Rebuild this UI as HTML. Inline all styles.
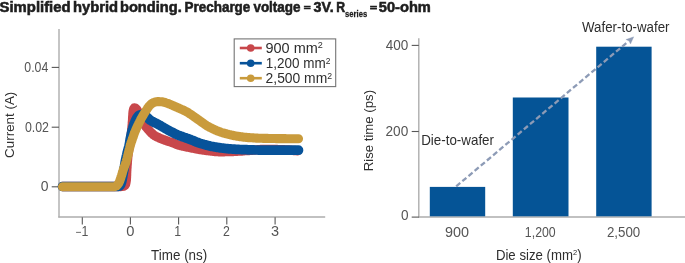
<!DOCTYPE html>
<html><head><meta charset="utf-8"><style>
html,body{margin:0;padding:0;background:#fff;}
body{width:685px;height:263px;overflow:hidden;}
svg{display:block;}
</style></head><body>
<svg width="685" height="263" viewBox="0 0 685 263">
<text transform="translate(-0.46,12.2) scale(1.062,1)" font-family="Liberation Sans, sans-serif" font-weight="bold" font-size="14" fill="#1e1e1e" stroke="#1e1e1e" stroke-width="0.55">Simplified</text>
<text transform="translate(72.94,12.2) scale(1.056,1)" font-family="Liberation Sans, sans-serif" font-weight="bold" font-size="14" fill="#1e1e1e" stroke="#1e1e1e" stroke-width="0.55">hybrid</text>
<text transform="translate(119.95,12.2) scale(1.046,1)" font-family="Liberation Sans, sans-serif" font-weight="bold" font-size="14" fill="#1e1e1e" stroke="#1e1e1e" stroke-width="0.55">bonding.</text>
<text transform="translate(184.44,12.2) scale(0.963,1)" font-family="Liberation Sans, sans-serif" font-weight="bold" font-size="14" fill="#1e1e1e" stroke="#1e1e1e" stroke-width="0.55">Precharge</text>
<text transform="translate(253.40,12.2) scale(0.963,1)" font-family="Liberation Sans, sans-serif" font-weight="bold" font-size="14" fill="#1e1e1e" stroke="#1e1e1e" stroke-width="0.55">voltage</text>
<text transform="translate(313.60,12.2) scale(1.021,1)" font-family="Liberation Sans, sans-serif" font-weight="bold" font-size="14" fill="#1e1e1e" stroke="#1e1e1e" stroke-width="0.55">3V.</text>
<text transform="translate(336.22,12.2) scale(0.878,1)" font-family="Liberation Sans, sans-serif" font-weight="bold" font-size="14" fill="#1e1e1e" stroke="#1e1e1e" stroke-width="0.55">R</text>
<text transform="translate(378.85,12.2) scale(1.046,1)" font-family="Liberation Sans, sans-serif" font-weight="bold" font-size="14" fill="#1e1e1e" stroke="#1e1e1e" stroke-width="0.55">50-ohm</text>
<text transform="translate(303.70,10.5) scale(0.850,0.65)" font-family="Liberation Sans, sans-serif" font-weight="bold" font-size="14" fill="#1e1e1e" stroke="#1e1e1e" stroke-width="0.9">=</text>
<text transform="translate(369.90,10.5) scale(0.863,0.65)" font-family="Liberation Sans, sans-serif" font-weight="bold" font-size="14" fill="#1e1e1e" stroke="#1e1e1e" stroke-width="0.9">=</text>
<text transform="translate(345.00,16.9) scale(0.807,1)" font-family="Liberation Sans, sans-serif" font-weight="bold" font-size="9.5" fill="#1e1e1e" stroke="#1e1e1e" stroke-width="0.25">series</text>
<line x1="59" y1="29" x2="59" y2="217.4" stroke="#adadad" stroke-width="1.4"/>
<line x1="58.3" y1="217" x2="325.2" y2="217" stroke="#adadad" stroke-width="1.4"/>
<line x1="51.7" y1="67.4" x2="59" y2="67.4" stroke="#575757" stroke-width="1.1"/>
<line x1="51.7" y1="127.2" x2="59" y2="127.2" stroke="#575757" stroke-width="1.1"/>
<line x1="51.7" y1="186.8" x2="59" y2="186.8" stroke="#575757" stroke-width="1.1"/>
<line x1="82.3" y1="217.3" x2="82.3" y2="224.5" stroke="#575757" stroke-width="1.1"/>
<line x1="130.4" y1="217.3" x2="130.4" y2="224.5" stroke="#575757" stroke-width="1.1"/>
<line x1="178.6" y1="217.3" x2="178.6" y2="224.5" stroke="#575757" stroke-width="1.1"/>
<line x1="226.8" y1="217.3" x2="226.8" y2="224.5" stroke="#575757" stroke-width="1.1"/>
<line x1="275.1" y1="217.3" x2="275.1" y2="224.5" stroke="#575757" stroke-width="1.1"/>
<line x1="418.8" y1="38.2" x2="418.8" y2="217.4" stroke="#adadad" stroke-width="1.4"/>
<line x1="418.1" y1="217" x2="685" y2="217" stroke="#adadad" stroke-width="1.4"/>
<line x1="411.7" y1="45.4" x2="418.8" y2="45.4" stroke="#575757" stroke-width="1.1"/>
<line x1="411.7" y1="131.5" x2="418.8" y2="131.5" stroke="#575757" stroke-width="1.1"/>
<line x1="411.7" y1="217.1" x2="418.8" y2="217.1" stroke="#575757" stroke-width="1.1"/>
<rect x="429.8" y="186.9" width="55.4" height="29.4" fill="#055496"/>
<rect x="512.8" y="97.5" width="55.7" height="118.8" fill="#055496"/>
<rect x="596.2" y="46.7" width="55.4" height="169.6" fill="#055496"/>
<path d="M62.5,186.5 L63.5,186.5 L64.5,186.5 L65.5,186.5 L66.5,186.5 L67.5,186.5 L68.5,186.5 L69.5,186.5 L70.5,186.5 L71.5,186.5 L72.5,186.5 L73.5,186.5 L74.5,186.5 L75.5,186.5 L76.5,186.5 L77.5,186.5 L78.5,186.5 L79.5,186.5 L80.5,186.5 L81.5,186.5 L82.5,186.5 L83.5,186.5 L84.5,186.5 L85.5,186.5 L86.5,186.5 L87.5,186.5 L88.5,186.5 L89.5,186.5 L90.5,186.5 L91.5,186.5 L92.5,186.5 L93.5,186.5 L94.5,186.5 L95.5,186.5 L96.5,186.5 L97.5,186.5 L98.5,186.5 L99.5,186.5 L100.5,186.5 L101.5,186.5 L102.5,186.5 L103.5,186.5 L104.5,186.5 L105.5,186.5 L106.5,186.5 L107.5,186.5 L108.5,186.5 L109.5,186.5 L110.5,186.5 L111.5,186.5 L112.5,186.5 L113.5,186.5 L114.5,186.5 L115.5,186.5 L116.5,186.5 L117.5,186.5 L118.5,186.5 L119.5,186.5 L120.5,186.5 L121.5,186.4 L122.5,186.3 L123.5,186.2 L124.4,185.8 L125.1,185.1 L125.6,184.2 L125.8,183.2 L126.0,182.3 L126.1,181.3 L126.3,180.3 L126.4,179.3 L126.4,178.3 L126.5,177.3 L126.5,176.3 L126.6,175.3 L126.6,174.3 L126.6,173.3 L126.7,172.3 L126.7,171.3 L126.8,170.3 L126.8,169.3 L126.9,168.3 L127.0,167.3 L127.0,166.3 L127.1,165.3 L127.2,164.3 L127.3,163.3 L127.3,162.3 L127.4,161.3 L127.5,160.3 L127.6,159.3 L127.7,158.3 L127.7,157.3 L127.9,156.3 L128.0,155.3 L128.1,154.3 L128.2,153.4 L128.4,152.4 L128.5,151.4 L128.7,150.4 L128.9,149.4 L129.1,148.4 L129.3,147.4 L129.5,146.5 L129.7,145.5 L129.9,144.5 L130.0,143.5 L130.2,142.5 L130.4,141.6 L130.5,140.6 L130.7,139.6 L130.8,138.6 L130.9,137.6 L131.0,136.6 L131.1,135.6 L131.2,134.6 L131.3,133.6 L131.4,132.6 L131.5,131.6 L131.6,130.6 L131.7,129.6 L131.8,128.6 L131.9,127.6 L132.0,126.6 L132.1,125.6 L132.2,124.6 L132.3,123.7 L132.3,122.7 L132.4,121.7 L132.5,120.7 L132.6,119.7 L132.6,118.7 L132.7,117.7 L132.7,116.7 L132.8,115.7 L132.9,114.7 L132.9,113.7 L133.0,112.7 L133.1,111.7 L133.3,110.7 L133.5,109.7 L133.8,108.8 L134.3,107.9 L135.2,108.0 L136.0,108.7 L136.7,109.4 L137.2,110.2 L137.7,111.1 L138.1,112.0 L138.6,112.9 L139.0,113.8 L139.3,114.8 L139.7,115.7 L140.0,116.6 L140.4,117.6 L140.8,118.5 L141.2,119.4 L141.7,120.3 L142.2,121.2 L142.7,122.0 L143.2,122.8 L143.8,123.7 L144.3,124.5 L144.9,125.3 L145.5,126.1 L146.1,126.9 L146.8,127.7 L147.4,128.5 L148.0,129.2 L148.7,130.0 L149.4,130.7 L150.0,131.5 L150.7,132.2 L151.4,132.9 L152.1,133.6 L152.9,134.3 L153.6,134.9 L154.5,135.5 L155.3,136.0 L156.2,136.5 L157.1,136.9 L158.0,137.3 L158.9,137.8 L159.8,138.2 L160.7,138.6 L161.7,138.9 L162.6,139.3 L163.5,139.6 L164.5,140.0 L165.4,140.3 L166.4,140.7 L167.3,141.0 L168.3,141.3 L169.2,141.6 L170.2,141.9 L171.1,142.2 L172.1,142.5 L173.0,142.8 L173.9,143.2 L174.8,143.6 L175.8,144.0 L176.7,144.4 L177.6,144.8 L178.6,145.1 L179.5,145.3 L180.5,145.6 L181.5,145.8 L182.5,146.1 L183.4,146.3 L184.4,146.5 L185.4,146.7 L186.4,146.9 L187.3,147.1 L188.3,147.3 L189.3,147.5 L190.3,147.7 L191.3,147.9 L192.2,148.1 L193.2,148.3 L194.2,148.5 L195.2,148.7 L196.2,148.9 L197.2,149.0 L198.1,149.2 L199.1,149.4 L200.1,149.6 L201.1,149.7 L202.1,149.9 L203.1,150.0 L204.1,150.2 L205.1,150.3 L206.0,150.4 L207.0,150.6 L208.0,150.7 L209.0,150.8 L210.0,150.9 L211.0,151.0 L212.0,151.1 L213.0,151.3 L214.0,151.4 L215.0,151.5 L216.0,151.6 L217.0,151.7 L218.0,151.7 L219.0,151.8 L220.0,151.8 L221.0,151.8 L222.0,151.8 L223.0,151.8 L224.0,151.8 L225.0,151.7 L226.0,151.7 L227.0,151.7 L228.0,151.6 L229.0,151.6 L230.0,151.6 L231.0,151.5 L232.0,151.5 L233.0,151.5 L234.0,151.4 L235.0,151.4 L236.0,151.3 L237.0,151.3 L238.0,151.2 L239.0,151.1 L240.0,151.1 L241.0,151.0 L241.9,151.0 L242.9,150.9 L243.9,150.8 L244.9,150.7 L245.9,150.7 L246.9,150.6 L247.9,150.5 L248.9,150.5 L249.9,150.4 L250.9,150.3 L251.9,150.3 L252.9,150.2 L253.9,150.1 L254.9,150.0 L255.9,149.9 L256.9,149.8 L257.9,149.7 L258.9,149.7 L259.9,149.6 L260.9,149.5 L261.9,149.5 L262.9,149.4 L263.9,149.4 L264.9,149.4 L265.9,149.4 L266.9,149.4 L267.9,149.4 L268.9,149.4 L269.9,149.4 L270.9,149.4 L271.9,149.5 L272.9,149.5 L273.9,149.5 L274.9,149.5 L275.9,149.5 L276.9,149.5 L277.9,149.6 L278.9,149.6 L279.9,149.6 L280.9,149.6 L281.9,149.7 L282.9,149.7 L283.9,149.7 L284.9,149.8 L285.9,149.8 L286.9,149.9 L287.9,150.0 L288.9,150.0 L289.9,150.1 L290.9,150.2 L291.9,150.3 L292.9,150.4 L293.9,150.5 L294.9,150.5 L295.9,150.6 L296.8,150.7 L297.5,150.8" fill="none" stroke="#c8474b" stroke-width="9.3" stroke-linecap="round" stroke-linejoin="round"/>
<path d="M62.5,186.5 L63.5,186.5 L64.5,186.5 L65.5,186.5 L66.5,186.5 L67.5,186.5 L68.5,186.5 L69.5,186.5 L70.5,186.5 L71.5,186.5 L72.5,186.5 L73.5,186.5 L74.5,186.5 L75.5,186.5 L76.5,186.5 L77.5,186.5 L78.5,186.5 L79.5,186.5 L80.5,186.5 L81.5,186.5 L82.5,186.5 L83.5,186.5 L84.5,186.5 L85.5,186.5 L86.5,186.5 L87.5,186.5 L88.5,186.5 L89.5,186.5 L90.5,186.5 L91.5,186.5 L92.5,186.5 L93.5,186.5 L94.5,186.5 L95.5,186.5 L96.5,186.5 L97.5,186.5 L98.5,186.5 L99.5,186.5 L100.5,186.5 L101.5,186.5 L102.5,186.5 L103.5,186.5 L104.5,186.5 L105.5,186.5 L106.5,186.5 L107.5,186.5 L108.5,186.5 L109.5,186.5 L110.5,186.5 L111.5,186.5 L112.5,186.5 L113.5,186.5 L114.5,186.5 L115.5,186.5 L116.5,186.5 L117.5,186.5 L118.5,186.3 L119.4,186.0 L120.2,185.4 L120.7,184.5 L121.1,183.6 L121.4,182.6 L121.7,181.7 L121.9,180.7 L122.1,179.7 L122.3,178.7 L122.5,177.8 L122.7,176.8 L122.8,175.8 L123.0,174.8 L123.2,173.8 L123.4,172.8 L123.5,171.9 L123.7,170.9 L123.9,169.9 L124.0,168.9 L124.2,167.9 L124.4,166.9 L124.6,165.9 L124.7,165.0 L124.9,164.0 L125.1,163.0 L125.2,162.0 L125.4,161.0 L125.6,160.0 L125.8,159.1 L126.0,158.1 L126.2,157.1 L126.4,156.1 L126.7,155.1 L126.9,154.2 L127.1,153.2 L127.3,152.2 L127.6,151.3 L127.8,150.3 L128.1,149.3 L128.4,148.4 L128.6,147.4 L128.9,146.4 L129.1,145.5 L129.3,144.5 L129.5,143.5 L129.7,142.5 L129.8,141.5 L130.0,140.5 L130.1,139.5 L130.3,138.6 L130.5,137.6 L130.7,136.6 L130.9,135.6 L131.1,134.6 L131.3,133.7 L131.6,132.7 L131.8,131.7 L132.0,130.7 L132.3,129.8 L132.6,128.8 L132.8,127.9 L133.1,126.9 L133.4,125.9 L133.8,125.0 L134.1,124.1 L134.4,123.1 L134.8,122.2 L135.1,121.3 L135.6,120.3 L136.0,119.5 L136.5,118.6 L137.0,117.7 L137.6,116.9 L138.2,116.1 L138.8,115.4 L139.7,114.9 L140.7,114.7 L141.7,114.5 L142.7,114.4 L143.7,114.4 L144.6,114.8 L145.3,115.5 L146.1,116.2 L146.8,116.9 L147.5,117.6 L148.2,118.3 L148.9,119.0 L149.6,119.7 L150.4,120.3 L151.3,120.8 L152.1,121.3 L153.0,121.8 L153.9,122.2 L154.8,122.7 L155.7,123.1 L156.6,123.6 L157.5,124.0 L158.4,124.5 L159.3,125.0 L160.1,125.4 L161.0,126.0 L161.9,126.5 L162.7,127.0 L163.6,127.5 L164.4,128.0 L165.3,128.5 L166.2,129.0 L167.0,129.5 L167.9,130.0 L168.8,130.5 L169.7,130.9 L170.6,131.4 L171.4,131.9 L172.3,132.3 L173.2,132.8 L174.1,133.2 L175.0,133.7 L175.9,134.1 L176.8,134.5 L177.7,134.9 L178.7,135.3 L179.6,135.6 L180.5,136.0 L181.5,136.3 L182.4,136.7 L183.4,137.0 L184.3,137.3 L185.3,137.6 L186.2,138.0 L187.2,138.3 L188.1,138.6 L189.0,139.0 L190.0,139.3 L190.9,139.7 L191.8,140.1 L192.8,140.4 L193.7,140.8 L194.6,141.2 L195.5,141.6 L196.4,142.0 L197.4,142.3 L198.3,142.7 L199.3,143.0 L200.2,143.3 L201.2,143.6 L202.1,143.9 L203.1,144.2 L204.0,144.5 L205.0,144.7 L206.0,145.0 L206.9,145.3 L207.9,145.5 L208.9,145.7 L209.9,146.0 L210.8,146.2 L211.8,146.4 L212.8,146.6 L213.8,146.8 L214.8,147.0 L215.7,147.1 L216.7,147.3 L217.7,147.4 L218.7,147.6 L219.7,147.7 L220.7,147.9 L221.7,148.0 L222.7,148.1 L223.7,148.3 L224.6,148.4 L225.6,148.5 L226.6,148.6 L227.6,148.7 L228.6,148.8 L229.6,148.9 L230.6,148.9 L231.6,149.0 L232.6,149.1 L233.6,149.2 L234.6,149.2 L235.6,149.3 L236.6,149.3 L237.6,149.4 L238.6,149.4 L239.6,149.5 L240.6,149.5 L241.6,149.6 L242.6,149.6 L243.6,149.7 L244.6,149.7 L245.6,149.7 L246.6,149.7 L247.6,149.8 L248.6,149.8 L249.6,149.8 L250.6,149.9 L251.6,149.9 L252.6,149.9 L253.6,149.9 L254.6,150.0 L255.6,150.0 L256.6,150.0 L257.6,150.0 L258.6,150.1 L259.6,150.1 L260.6,150.1 L261.6,150.1 L262.6,150.1 L263.6,150.2 L264.6,150.2 L265.6,150.2 L266.6,150.2 L267.6,150.2 L268.6,150.2 L269.6,150.2 L270.6,150.2 L271.6,150.2 L272.6,150.2 L273.6,150.2 L274.6,150.2 L275.6,150.2 L276.6,150.2 L277.6,150.2 L278.6,150.2 L279.6,150.2 L280.6,150.2 L281.6,150.2 L282.6,150.2 L283.6,150.2 L284.6,150.2 L285.6,150.2 L286.6,150.2 L287.6,150.2 L288.6,150.2 L289.6,150.2 L290.6,150.2 L291.6,150.2 L292.6,150.2 L293.6,150.2 L294.6,150.2 L295.6,150.2 L296.6,150.2 L297.6,150.2 L298.5,150.2" fill="none" stroke="#07539a" stroke-width="9.7" stroke-linecap="round" stroke-linejoin="round"/>
<path d="M62.5,186.7 L63.5,186.7 L64.5,186.7 L65.5,186.7 L66.5,186.7 L67.5,186.7 L68.5,186.7 L69.5,186.7 L70.5,186.7 L71.5,186.7 L72.5,186.7 L73.5,186.7 L74.5,186.7 L75.5,186.7 L76.5,186.7 L77.5,186.7 L78.5,186.7 L79.5,186.7 L80.5,186.7 L81.5,186.7 L82.5,186.7 L83.5,186.7 L84.5,186.7 L85.5,186.7 L86.5,186.7 L87.5,186.7 L88.5,186.7 L89.5,186.7 L90.5,186.7 L91.5,186.7 L92.5,186.7 L93.5,186.7 L94.5,186.7 L95.5,186.7 L96.5,186.7 L97.5,186.7 L98.5,186.7 L99.5,186.7 L100.5,186.7 L101.5,186.7 L102.5,186.7 L103.5,186.7 L104.5,186.7 L105.5,186.7 L106.5,186.7 L107.5,186.7 L108.5,186.7 L109.5,186.7 L110.5,186.7 L111.5,186.7 L112.5,186.7 L113.5,186.7 L114.5,186.6 L115.5,186.3 L116.4,186.0 L117.1,185.3 L117.8,184.6 L118.3,183.7 L118.9,182.9 L119.3,182.0 L119.7,181.1 L120.0,180.1 L120.4,179.2 L120.7,178.2 L121.0,177.3 L121.3,176.3 L121.6,175.4 L121.9,174.4 L122.2,173.5 L122.4,172.5 L122.7,171.5 L123.0,170.6 L123.3,169.6 L123.6,168.7 L124.0,167.8 L124.3,166.8 L124.7,165.9 L125.0,164.9 L125.4,164.0 L125.7,163.0 L126.0,162.1 L126.3,161.1 L126.5,160.2 L126.8,159.2 L127.1,158.2 L127.3,157.3 L127.6,156.3 L127.8,155.3 L128.1,154.4 L128.3,153.4 L128.5,152.4 L128.8,151.5 L129.0,150.5 L129.2,149.5 L129.5,148.5 L129.7,147.6 L130.0,146.6 L130.2,145.6 L130.5,144.7 L130.8,143.7 L131.1,142.8 L131.4,141.8 L131.8,140.9 L132.1,139.9 L132.4,139.0 L132.7,138.0 L133.1,137.1 L133.4,136.1 L133.7,135.2 L134.0,134.3 L134.4,133.3 L134.7,132.4 L135.1,131.5 L135.5,130.5 L135.9,129.6 L136.3,128.7 L136.7,127.8 L137.1,126.9 L137.5,126.0 L137.9,125.1 L138.4,124.2 L138.8,123.3 L139.3,122.4 L139.7,121.5 L140.2,120.6 L140.6,119.7 L141.1,118.8 L141.6,117.9 L142.1,117.1 L142.6,116.2 L143.1,115.3 L143.6,114.5 L144.1,113.6 L144.6,112.8 L145.2,111.9 L145.7,111.1 L146.3,110.2 L146.8,109.4 L147.4,108.6 L147.9,107.7 L148.5,106.9 L149.1,106.1 L149.8,105.4 L150.5,104.7 L151.3,104.0 L152.1,103.4 L152.9,102.9 L153.8,102.5 L154.7,102.2 L155.7,101.9 L156.7,101.7 L157.7,101.6 L158.7,101.6 L159.7,101.7 L160.7,101.7 L161.7,101.8 L162.7,101.9 L163.6,102.1 L164.6,102.4 L165.6,102.7 L166.5,103.0 L167.5,103.3 L168.4,103.6 L169.3,104.0 L170.3,104.4 L171.2,104.8 L172.1,105.2 L173.0,105.6 L173.9,106.0 L174.8,106.4 L175.7,106.8 L176.7,107.2 L177.6,107.6 L178.5,108.0 L179.4,108.4 L180.3,108.8 L181.2,109.2 L182.2,109.6 L183.1,110.0 L184.0,110.5 L184.9,110.9 L185.8,111.3 L186.6,111.8 L187.5,112.3 L188.4,112.8 L189.2,113.4 L190.1,113.9 L190.9,114.5 L191.7,115.0 L192.5,115.6 L193.3,116.2 L194.1,116.8 L195.0,117.4 L195.8,117.9 L196.6,118.5 L197.4,119.1 L198.2,119.6 L199.1,120.2 L199.9,120.8 L200.7,121.4 L201.5,122.0 L202.3,122.6 L203.1,123.2 L203.9,123.7 L204.8,124.3 L205.6,124.8 L206.4,125.4 L207.3,125.9 L208.2,126.4 L209.0,126.9 L209.9,127.4 L210.8,127.8 L211.7,128.3 L212.6,128.7 L213.5,129.2 L214.4,129.6 L215.3,130.0 L216.2,130.4 L217.1,130.8 L218.1,131.1 L219.0,131.5 L219.9,131.8 L220.9,132.2 L221.8,132.5 L222.8,132.8 L223.7,133.1 L224.7,133.3 L225.7,133.6 L226.6,133.9 L227.6,134.1 L228.6,134.4 L229.5,134.6 L230.5,134.8 L231.5,135.1 L232.5,135.3 L233.4,135.5 L234.4,135.7 L235.4,135.9 L236.4,136.1 L237.4,136.2 L238.4,136.4 L239.4,136.5 L240.3,136.7 L241.3,136.8 L242.3,136.9 L243.3,137.1 L244.3,137.2 L245.3,137.3 L246.3,137.4 L247.3,137.5 L248.3,137.6 L249.3,137.6 L250.3,137.7 L251.3,137.8 L252.3,137.8 L253.3,137.9 L254.3,138.0 L255.3,138.0 L256.3,138.1 L257.3,138.1 L258.3,138.2 L259.3,138.2 L260.3,138.3 L261.3,138.3 L262.3,138.3 L263.3,138.4 L264.3,138.4 L265.3,138.4 L266.3,138.4 L267.3,138.4 L268.3,138.5 L269.3,138.5 L270.3,138.5 L271.3,138.5 L272.3,138.5 L273.3,138.5 L274.3,138.5 L275.3,138.5 L276.3,138.6 L277.3,138.6 L278.3,138.6 L279.3,138.6 L280.3,138.6 L281.3,138.6 L282.3,138.6 L283.3,138.6 L284.3,138.6 L285.3,138.6 L286.3,138.7 L287.3,138.7 L288.3,138.7 L289.3,138.7 L290.3,138.7 L291.3,138.7 L292.3,138.7 L293.3,138.7 L294.3,138.7 L295.3,138.7 L296.3,138.7 L297.3,138.7 L298.3,138.7 L298.5,138.7" fill="none" stroke="#c99b3c" stroke-width="9.1" stroke-linecap="round" stroke-linejoin="round"/>
<rect x="234.2" y="38.9" width="101.5" height="47.7" fill="#fff" stroke="#747474" stroke-width="1.1"/>
<line x1="239.8" y1="48.0" x2="261.8" y2="48.0" stroke="#c8474b" stroke-width="2.6"/>
<circle cx="250.7" cy="48.0" r="3.8" fill="#c8474b"/>
<line x1="239.8" y1="63.2" x2="261.8" y2="63.2" stroke="#07539a" stroke-width="2.6"/>
<circle cx="250.7" cy="63.2" r="3.8" fill="#07539a"/>
<line x1="239.8" y1="78.2" x2="261.8" y2="78.2" stroke="#c99b3c" stroke-width="2.6"/>
<circle cx="250.7" cy="78.2" r="3.8" fill="#c99b3c"/>
<line x1="456.2" y1="186.4" x2="626.3" y2="43.1" stroke="#8d9bb6" stroke-width="2.3" stroke-dasharray="5.3,2.74"/>
<path d="M633.8,36.8 L625.9,39.5 L629.0,41.0 L630.5,44.1 Z" fill="#8d9bb6" stroke="#8d9bb6" stroke-width="0.3" stroke-linejoin="round"/>
<text transform="translate(24.29,71.7) scale(0.920,1.07)" font-family="Liberation Sans, sans-serif" font-weight="normal" font-size="13.4" fill="#555555">0.04</text>
<text transform="translate(24.90,131.5) scale(0.924,1.07)" font-family="Liberation Sans, sans-serif" font-weight="normal" font-size="13.4" fill="#555555">0.02</text>
<text transform="translate(40.70,191.4) scale(1.043,1.07)" font-family="Liberation Sans, sans-serif" font-weight="normal" font-size="13.4" fill="#555555">0</text>
<text transform="translate(75.66,236.2) scale(0.920,1.07)" font-family="Liberation Sans, sans-serif" font-weight="normal" font-size="13.4" fill="#555555"><tspan font-size="11" dy="-0.5">−</tspan><tspan dy="0.5">1</tspan></text>
<text transform="translate(126.30,236.2) scale(1.100,1.07)" font-family="Liberation Sans, sans-serif" font-weight="normal" font-size="13.4" fill="#555555">0</text>
<text transform="translate(174.22,236.2) scale(0.920,1.07)" font-family="Liberation Sans, sans-serif" font-weight="normal" font-size="13.4" fill="#555555">1</text>
<text transform="translate(222.92,236.2) scale(0.920,1.07)" font-family="Liberation Sans, sans-serif" font-weight="normal" font-size="13.4" fill="#555555">2</text>
<text transform="translate(270.92,236.4) scale(1.083,1.07)" font-family="Liberation Sans, sans-serif" font-weight="normal" font-size="13.4" fill="#555555">3</text>
<text transform="translate(151.10,259.8) scale(1.017,1.04)" font-family="Liberation Sans, sans-serif" font-weight="normal" font-size="13.2" fill="#2e2e2e">Time (ns)</text>
<text transform="translate(265.52,52.6) scale(1.081,1.04)" font-family="Liberation Sans, sans-serif" font-weight="normal" font-size="13.4" fill="#2e2e2e">900 mm<tspan font-size="8.4" dy="-4.3">2</tspan></text>
<text transform="translate(265.79,68.0) scale(1.006,1.04)" font-family="Liberation Sans, sans-serif" font-weight="normal" font-size="13.4" fill="#2e2e2e">1,200 mm<tspan font-size="8.4" dy="-4.3">2</tspan></text>
<text transform="translate(265.57,83.0) scale(1.035,1.04)" font-family="Liberation Sans, sans-serif" font-weight="normal" font-size="13.4" fill="#2e2e2e">2,500 mm<tspan font-size="8.4" dy="-4.3">2</tspan></text>
<text transform="translate(385.70,49.5) scale(1.009,1.07)" font-family="Liberation Sans, sans-serif" font-weight="normal" font-size="13.4" fill="#555555">400</text>
<text transform="translate(385.48,135.7) scale(1.019,1.07)" font-family="Liberation Sans, sans-serif" font-weight="normal" font-size="13.4" fill="#555555">200</text>
<text transform="translate(400.90,220.4) scale(1.014,1.07)" font-family="Liberation Sans, sans-serif" font-weight="normal" font-size="13.4" fill="#555555">0</text>
<text transform="translate(445.02,236.6) scale(1.076,1.07)" font-family="Liberation Sans, sans-serif" font-weight="normal" font-size="13.4" fill="#555555">900</text>
<text transform="translate(524.86,236.6) scale(0.920,1.07)" font-family="Liberation Sans, sans-serif" font-weight="normal" font-size="13.4" fill="#555555">1,200</text>
<text transform="translate(606.91,236.6) scale(0.994,1.07)" font-family="Liberation Sans, sans-serif" font-weight="normal" font-size="13.4" fill="#555555">2,500</text>
<text transform="translate(495.90,259.8) scale(1.001,1.04)" font-family="Liberation Sans, sans-serif" font-weight="normal" font-size="13.2" fill="#2e2e2e">Die size (mm<tspan font-size="7.5" dy="-4.6">2</tspan><tspan dy="4.6">)</tspan></text>
<text transform="translate(421.19,144.6) scale(1.013,1.04)" font-family="Liberation Sans, sans-serif" font-weight="normal" font-size="13.2" fill="#2e2e2e">Die-to-wafer</text>
<text transform="translate(582.00,31.6) scale(1.009,1.04)" font-family="Liberation Sans, sans-serif" font-weight="normal" font-size="13.2" fill="#2e2e2e">Wafer-to-wafer</text>
<text transform="translate(14.3,124.8) rotate(-90)" text-anchor="middle" font-family="Liberation Sans, sans-serif" font-size="13.4" fill="#2e2e2e">Current (A)</text>
<text transform="translate(373,130.6) rotate(-90)" text-anchor="middle" font-family="Liberation Sans, sans-serif" font-size="13.2" fill="#2e2e2e">Rise time (ps)</text>
</svg>
</body></html>
